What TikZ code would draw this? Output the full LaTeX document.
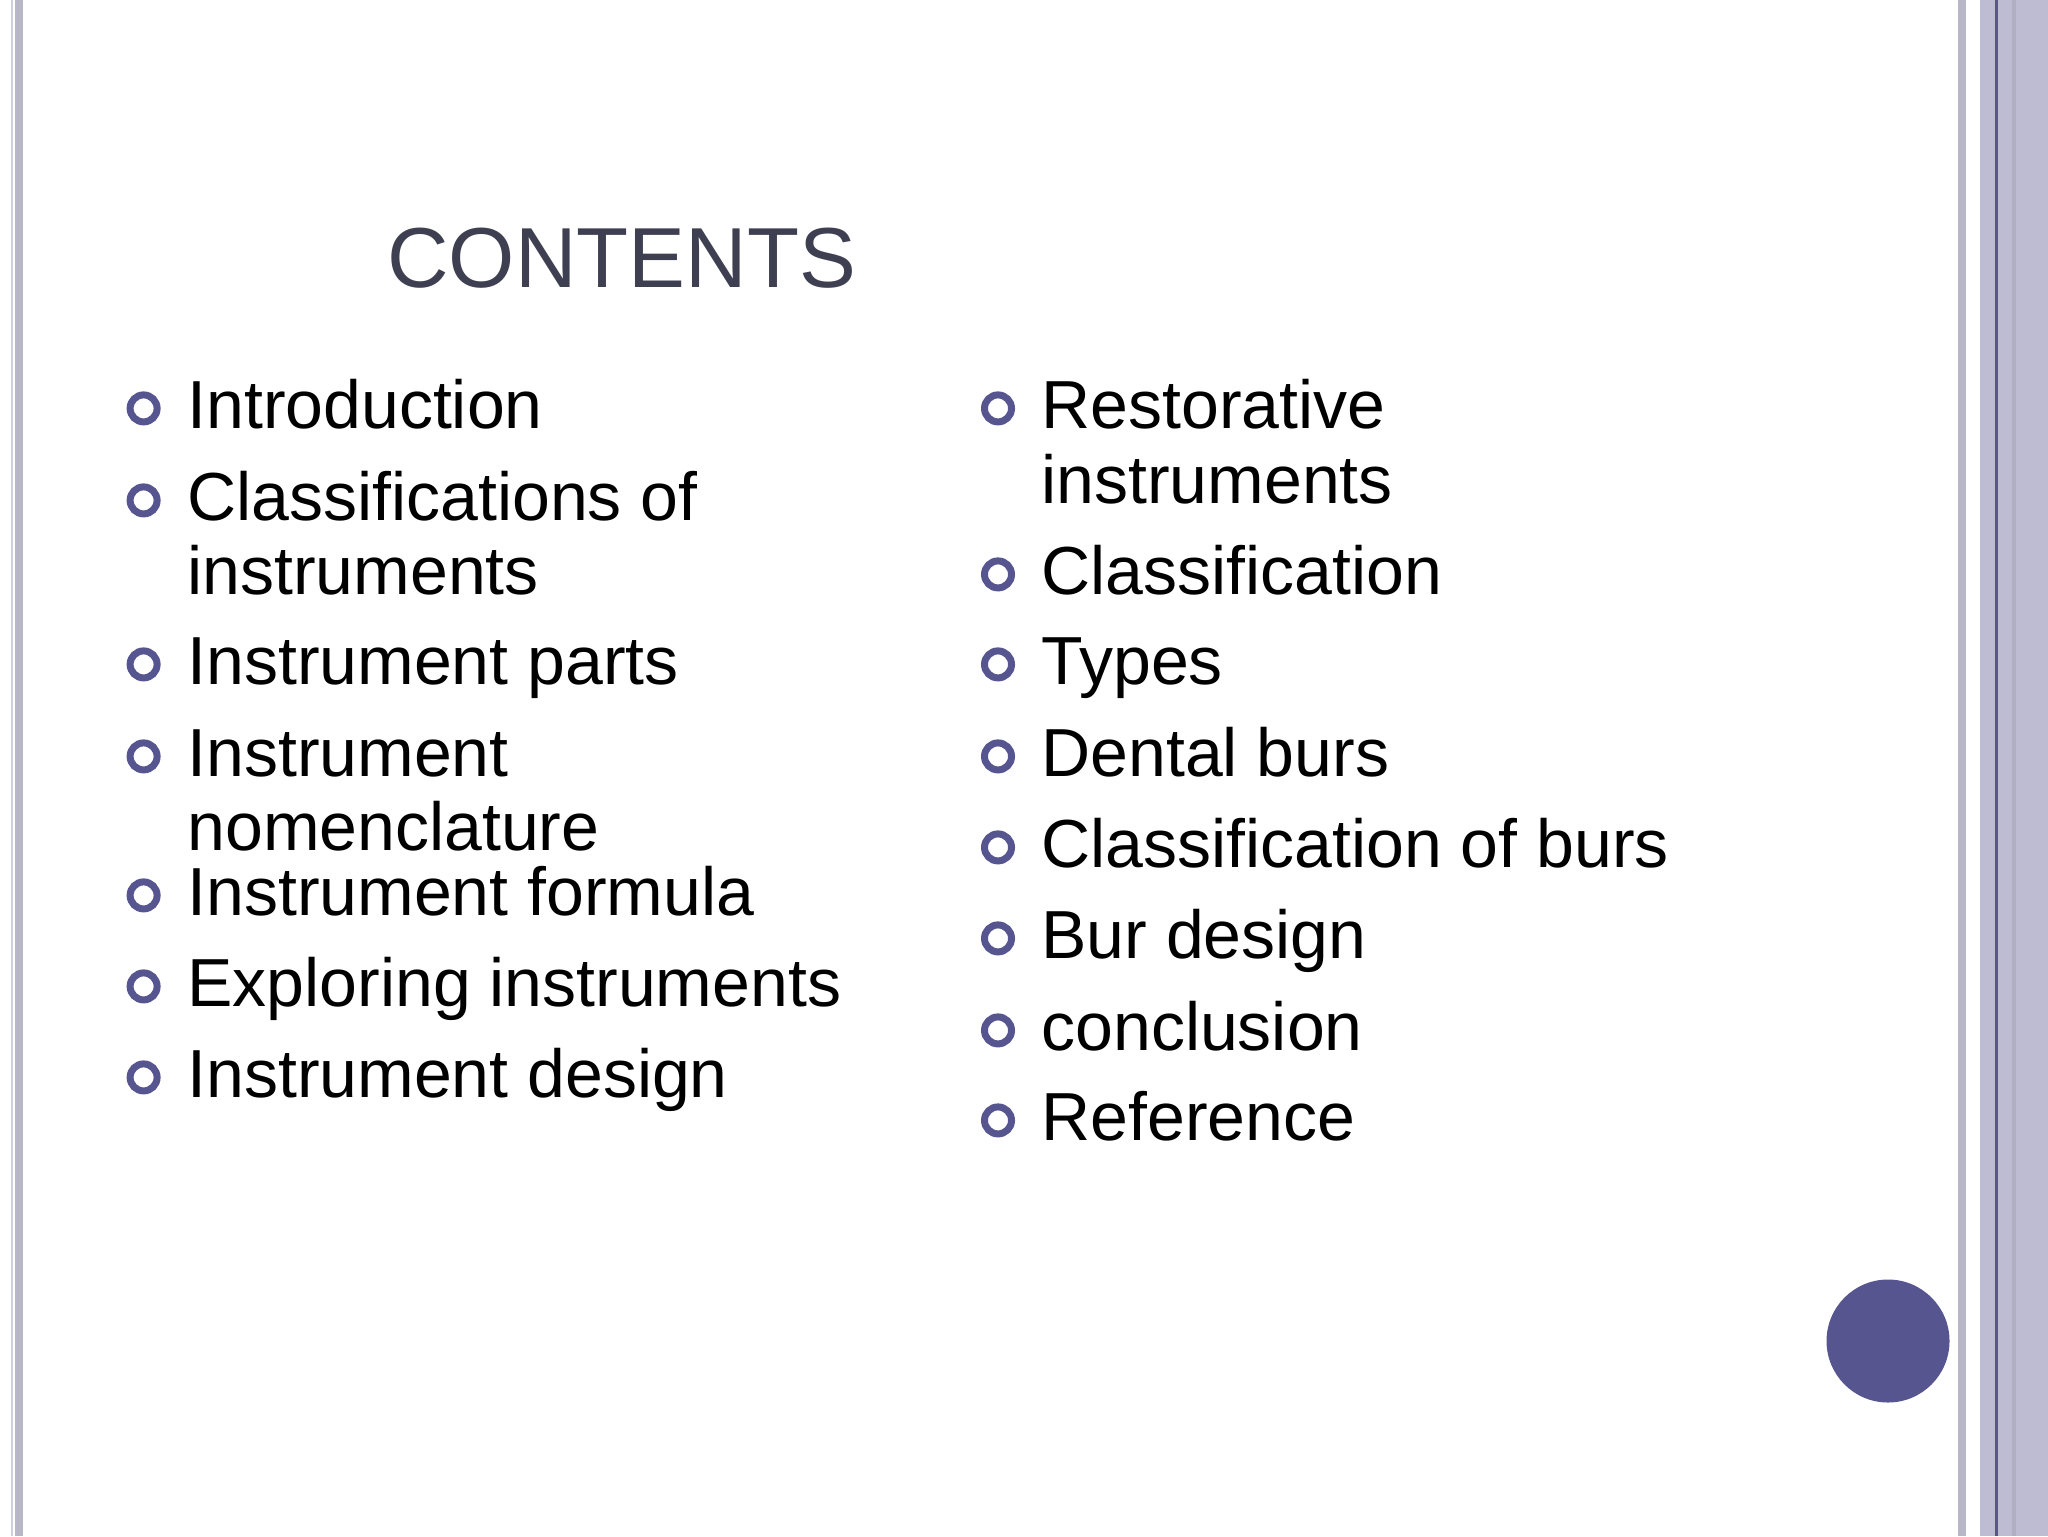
\documentclass[tikz,border=0pt]{standalone}
\usepackage{fontspec}
\setmainfont{Liberation Sans}
\definecolor{acc}{HTML}{565590}
\definecolor{lav}{HTML}{BDBCD2}
\definecolor{gr}{HTML}{B8B7C8}
\definecolor{ttl}{HTML}{3F3F52}
\begin{document}
\begin{tikzpicture}[x=0.5pt,y=-0.5pt,
  item/.style={anchor=base west,inner sep=0pt,font=\fontsize{34}{37}\selectfont},
  bul/.style={draw=acc,line width=3.5pt,circle,minimum size=13.5pt,inner sep=0pt}]
\useasboundingbox (0,0) rectangle (2048,1536);
\fill[white] (0,0) rectangle (2048,1536);
% left border lines
\fill[lav!70] (11,0) rectangle (13,1536);
\fill[gr] (15,0) rectangle (23,1536);
% right border
\fill[gr] (1958,0) rectangle (1966,1536);
\fill[lav] (1980,0) rectangle (2048,1536);
\fill[acc] (1995,0) rectangle (1998,1536);
\fill[gr!110] (2012,0) rectangle (2016,1536);
\node[anchor=base west,inner sep=0pt,text=ttl,font=\fontsize{42.6}{45}\selectfont] (title) at (387,287) {CONTENTS};
% left column
\foreach \t/\y [count=\i] in {Introduction/428,Classifications of/520,Instrument parts/684,Instrument/776,Instrument formula/915,Exploring instruments/1006,Instrument design/1097}{
  \node[item] (l\i) at (187,\y) {\t};
  \node[bul] (lb\i) at (143.6,\y-19.6) {};
}
\node[item] (l2b) at (187,594) {instruments};
\node[item] (l4b) at (187,850) {nomenclature};
\foreach \t/\y [count=\i] in {Restorative/428,Classification/594,Types/684,Dental burs/776,Classification of burs/867,Bur design/958,conclusion/1050,Reference/1140}{
  \node[item] (r\i) at (1041,\y) {\t};
  \node[bul] (rb\i) at (998,\y-19.6) {};
}
\node[item] (r1b) at (1041,503) {instruments};
\fill[acc] (1888,1341) circle (61.5);
\end{tikzpicture}
\end{document}
